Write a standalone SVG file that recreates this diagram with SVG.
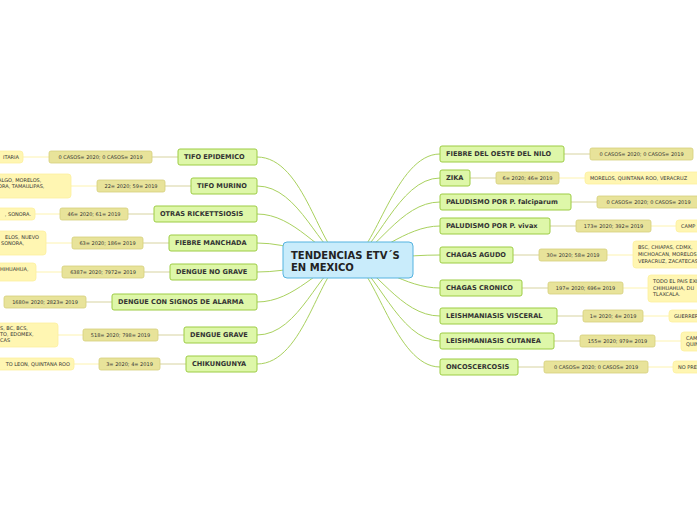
<svg xmlns="http://www.w3.org/2000/svg" width="697" height="520" viewBox="0 0 697 520">
<style>
.n rect{fill:#def7a9;stroke:#9dcc45;stroke-width:1}
.n text{font-family:"DejaVu Sans",sans-serif;font-weight:bold;font-size:6.6px;fill:#333;dominant-baseline:central}
.v rect{fill:#e8e39a;stroke:#d6cf7c;stroke-width:0.8}
.v text{font-family:"DejaVu Sans",sans-serif;font-size:5px;fill:#333;text-anchor:middle;dominant-baseline:central}
.s rect{fill:#fff6b2;stroke:#fdf0a0;stroke-width:0.8}
.s text{font-family:"DejaVu Sans",sans-serif;font-size:5px;fill:#333}
.c path{fill:none;stroke:#a9d15e;stroke-width:1}
.c line{stroke:#d7d3a0;stroke-width:1}
.c .y{stroke:#fdf3b0}
</style>
<rect width="697" height="520" fill="#fff"/>
<g class="c" id="connectors">
<path d="M257 157 C305 157 320 255 345 260"/>
<path d="M257 186 C300 186 320 255 345 260"/>
<path d="M257 214 C295 214 320 255 345 260"/>
<path d="M257 243 C290 243 320 258 345 260"/>
<path d="M257 272 C290 272 320 262 345 260"/>
<path d="M257 302 C295 302 320 265 345 260"/>
<path d="M257 335 C300 335 320 265 345 260"/>
<path d="M257 364 C305 364 320 265 345 260"/>
<path d="M440 154 C395 154 375 255 350 260"/>
<path d="M440 178 C398 178 375 255 350 260"/>
<path d="M440 202 C400 202 375 255 350 260"/>
<path d="M440 226 C405 226 375 258 350 260"/>
<path d="M440 255 C405 255 375 260 350 260"/>
<path d="M440 288 C405 288 375 262 350 260"/>
<path d="M440 316 C400 316 375 265 350 260"/>
<path d="M440 341 C398 341 375 265 350 260"/>
<path d="M440 367 C395 367 375 265 350 260"/>
<line x1="152" y1="157" x2="178" y2="157"/><line class="y" x1="23" y1="157" x2="49" y2="157"/>
<line x1="165" y1="186" x2="191" y2="186"/><line class="y" x1="71" y1="186" x2="97" y2="186"/>
<line x1="128" y1="214" x2="154" y2="214"/><line class="y" x1="35" y1="214" x2="60" y2="214"/>
<line x1="143" y1="243" x2="169" y2="243"/><line class="y" x1="46" y1="243" x2="72" y2="243"/>
<line x1="144" y1="272" x2="170" y2="272"/><line class="y" x1="36" y1="272" x2="62" y2="272"/>
<line x1="86" y1="302" x2="112" y2="302"/>
<line x1="158" y1="335" x2="184" y2="335"/><line class="y" x1="58" y1="335" x2="83" y2="335"/>
<line x1="160" y1="364" x2="186" y2="364"/><line class="y" x1="74" y1="364" x2="99" y2="364"/>
<line x1="564" y1="154" x2="590" y2="154"/>
<line x1="470" y1="178" x2="496" y2="178"/><line class="y" x1="559" y1="178" x2="585" y2="178"/>
<line x1="571" y1="202" x2="597" y2="202"/>
<line x1="550" y1="226" x2="576" y2="226"/><line class="y" x1="651" y1="226" x2="676" y2="226"/>
<line x1="513" y1="255" x2="539" y2="255"/><line class="y" x1="607" y1="255" x2="633" y2="255"/>
<line x1="522" y1="288" x2="548" y2="288"/><line class="y" x1="623" y1="288" x2="648" y2="288"/>
<line x1="557" y1="316" x2="583" y2="316"/><line class="y" x1="643" y1="316" x2="669" y2="316"/>
<line x1="554" y1="341" x2="580" y2="341"/><line class="y" x1="655" y1="341" x2="681" y2="341"/>
<line x1="518" y1="367" x2="544" y2="367"/><line class="y" x1="648" y1="367" x2="673" y2="367"/>
</g>
<g id="center">
<rect x="283" y="242" width="130" height="36" rx="4" fill="#c9ecfb" stroke="#55b3e0" stroke-width="1"/>
<text x="291" y="259" font-family="DejaVu Sans,sans-serif" font-weight="bold" font-size="10" fill="#222">TENDENCIAS ETV´S</text>
<text x="291" y="271" font-family="DejaVu Sans,sans-serif" font-weight="bold" font-size="10" fill="#222">EN MEXICO</text>
</g>
<g id="tifo-epidemico" class="n"><rect x="178" y="149" width="79" height="16" rx="2"/><text x="184" y="157">TIFO EPIDEMICO</text></g>
<g id="tifo-murino" class="n"><rect x="191" y="178" width="66" height="16" rx="2"/><text x="197" y="186">TIFO MURINO</text></g>
<g id="otras" class="n"><rect x="154" y="206" width="103" height="16" rx="2"/><text x="160" y="214">OTRAS RICKETTSIOSIS</text></g>
<g id="fiebre-manchada" class="n"><rect x="169" y="235" width="88" height="16" rx="2"/><text x="175" y="243">FIEBRE MANCHADA</text></g>
<g id="dengue-no-grave" class="n"><rect x="170" y="264" width="87" height="16" rx="2"/><text x="176" y="272">DENGUE NO GRAVE</text></g>
<g id="dengue-alarma" class="n"><rect x="112" y="294" width="145" height="16" rx="2"/><text x="118" y="302">DENGUE CON SIGNOS DE ALARMA</text></g>
<g id="dengue-grave" class="n"><rect x="184" y="327" width="73" height="16" rx="2"/><text x="190" y="335">DENGUE GRAVE</text></g>
<g id="chikungunya" class="n"><rect x="186" y="356" width="71" height="16" rx="2"/><text x="192" y="364">CHIKUNGUNYA</text></g>
<g id="v-l1" class="v"><rect x="49" y="151" width="103" height="12" rx="2"/><text x="100.5" y="157">0 CASOS= 2020; 0 CASOS= 2019</text></g>
<g id="v-l2" class="v"><rect x="97" y="180" width="68" height="12" rx="2"/><text x="131" y="186">22= 2020; 59= 2019</text></g>
<g id="v-l3" class="v"><rect x="60" y="208" width="68" height="12" rx="2"/><text x="94" y="214">46= 2020; 61= 2019</text></g>
<g id="v-l4" class="v"><rect x="72" y="237" width="71" height="12" rx="2"/><text x="107.5" y="243">63= 2020; 186= 2019</text></g>
<g id="v-l5" class="v"><rect x="62" y="266" width="82" height="12" rx="2"/><text x="103" y="272">6387= 2020; 7972= 2019</text></g>
<g id="v-l6" class="v"><rect x="4" y="296" width="82" height="12" rx="2"/><text x="45" y="302">1680= 2020; 2823= 2019</text></g>
<g id="v-l7" class="v"><rect x="83" y="329" width="75" height="12" rx="2"/><text x="120.5" y="335">518= 2020; 798= 2019</text></g>
<g id="v-l8" class="v"><rect x="99" y="358" width="61" height="12" rx="2"/><text x="129.5" y="364">3= 2020; 4= 2019</text></g>
<g id="s-l1" class="s"><rect x="-10" y="151" width="33" height="12" rx="3"/><text x="19" y="158.5" text-anchor="end">ITARIA</text></g>
<g id="s-l2" class="s"><rect x="-10" y="174" width="81" height="24" rx="3"/><text x="-2" y="182">ALGO, MORELOS,</text><text x="-2" y="188">ORA, TAMAULIPAS,</text></g>
<g id="s-l3" class="s"><rect x="-10" y="208" width="45" height="12" rx="3"/><text x="31" y="215.5" text-anchor="end">, SONORA.</text></g>
<g id="s-l4" class="s"><rect x="-10" y="231" width="56" height="24" rx="3"/><text x="39" y="239" text-anchor="end">ELOS, NUEVO</text><text x="1" y="245">SONORA,</text></g>
<g id="s-l5" class="s"><rect x="-10" y="263" width="46" height="18" rx="3"/><text x="0" y="271">HIHUAHUA,</text></g>
<g id="s-l7" class="s"><rect x="-10" y="323" width="68" height="24" rx="3"/><text x="0" y="330">S, BC, BCS,</text><text x="0" y="336">TO, EDOMEX,</text><text x="0" y="342">CAS</text></g>
<g id="s-l8" class="s"><rect x="-10" y="358" width="84" height="12" rx="3"/><text x="70" y="365.5" text-anchor="end">TO LEON, QUINTANA ROO</text></g>
<g id="nilo" class="n"><rect x="440" y="146" width="124" height="16" rx="2"/><text x="446" y="154">FIEBRE DEL OESTE DEL NILO</text></g>
<g id="zika" class="n"><rect x="440" y="170" width="30" height="16" rx="2"/><text x="446" y="178">ZIKA</text></g>
<g id="falciparum" class="n"><rect x="440" y="194" width="131" height="16" rx="2"/><text x="446" y="202">PALUDISMO POR P. falciparum</text></g>
<g id="vivax" class="n"><rect x="440" y="218" width="110" height="16" rx="2"/><text x="446" y="226">PALUDISMO POR P. vivax</text></g>
<g id="chagas-agudo" class="n"><rect x="440" y="247" width="73" height="16" rx="2"/><text x="446" y="255">CHAGAS AGUDO</text></g>
<g id="chagas-cronico" class="n"><rect x="440" y="280" width="82" height="16" rx="2"/><text x="446" y="288">CHAGAS CRONICO</text></g>
<g id="visceral" class="n"><rect x="440" y="308" width="117" height="16" rx="2"/><text x="446" y="316">LEISHMANIASIS VISCERAL</text></g>
<g id="cutanea" class="n"><rect x="440" y="333" width="114" height="16" rx="2"/><text x="446" y="341">LEISHMANIASIS CUTANEA</text></g>
<g id="onco" class="n"><rect x="440" y="359" width="78" height="16" rx="2"/><text x="446" y="367">ONCOSCERCOSIS</text></g>
<g id="v-r1" class="v"><rect x="590" y="148" width="103" height="12" rx="2"/><text x="641.5" y="154">0 CASOS= 2020; 0 CASOS= 2019</text></g>
<g id="v-r2" class="v"><rect x="496" y="172" width="63" height="12" rx="2"/><text x="527.5" y="178">6= 2020; 46= 2019</text></g>
<g id="v-r3" class="v"><rect x="597" y="196" width="103" height="12" rx="2"/><text x="648.5" y="202">0 CASOS= 2020; 0 CASOS= 2019</text></g>
<g id="v-r4" class="v"><rect x="576" y="220" width="75" height="12" rx="2"/><text x="613.5" y="226">173= 2020; 392= 2019</text></g>
<g id="v-r5" class="v"><rect x="539" y="249" width="68" height="12" rx="2"/><text x="573" y="255">30= 2020; 58= 2019</text></g>
<g id="v-r6" class="v"><rect x="548" y="282" width="75" height="12" rx="2"/><text x="585.5" y="288">197= 2020; 696= 2019</text></g>
<g id="v-r7" class="v"><rect x="583" y="310" width="60" height="12" rx="2"/><text x="613" y="316">1= 2020; 4= 2019</text></g>
<g id="v-r8" class="v"><rect x="580" y="335" width="75" height="12" rx="2"/><text x="617.5" y="341">155= 2020; 979= 2019</text></g>
<g id="v-r9" class="v"><rect x="544" y="361" width="104" height="12" rx="2"/><text x="596" y="367">0 CASOS= 2020; 0 CASOS= 2019</text></g>
<g id="s-r2" class="s"><rect x="585" y="172" width="130" height="12" rx="3"/><text x="590" y="179.5">MORELOS, QUINTANA ROO, VERACRUZ</text></g>
<g id="s-r4" class="s"><rect x="676" y="220" width="40" height="12" rx="3"/><text x="681" y="227.5">CAMP</text></g>
<g id="s-r5" class="s"><rect x="633" y="241" width="80" height="27" rx="3"/><text x="638" y="249">BSC, CHIAPAS, CDMX,</text><text x="638" y="256">MICHOACAN, MORELOS,</text><text x="638" y="263">VERACRUZ, ZACATECAS</text></g>
<g id="s-r6" class="s"><rect x="648" y="275" width="70" height="27" rx="3"/><text x="653" y="283">TODO EL PAIS EXCEPTO</text><text x="653" y="289.5">CHIHUAHUA, DU</text><text x="653" y="296">TLAXCALA.</text></g>
<g id="s-r7" class="s"><rect x="669" y="310" width="50" height="12" rx="3"/><text x="674" y="317.5">GUERRERO</text></g>
<g id="s-r8" class="s"><rect x="681" y="332" width="40" height="19" rx="3"/><text x="686" y="340">CAMPECHE,</text><text x="686" y="346">QUINTANA ROO</text></g>
<g id="s-r9" class="s"><rect x="673" y="361" width="50" height="12" rx="3"/><text x="678" y="368.5">NO PRESENTA</text></g>
</svg>
